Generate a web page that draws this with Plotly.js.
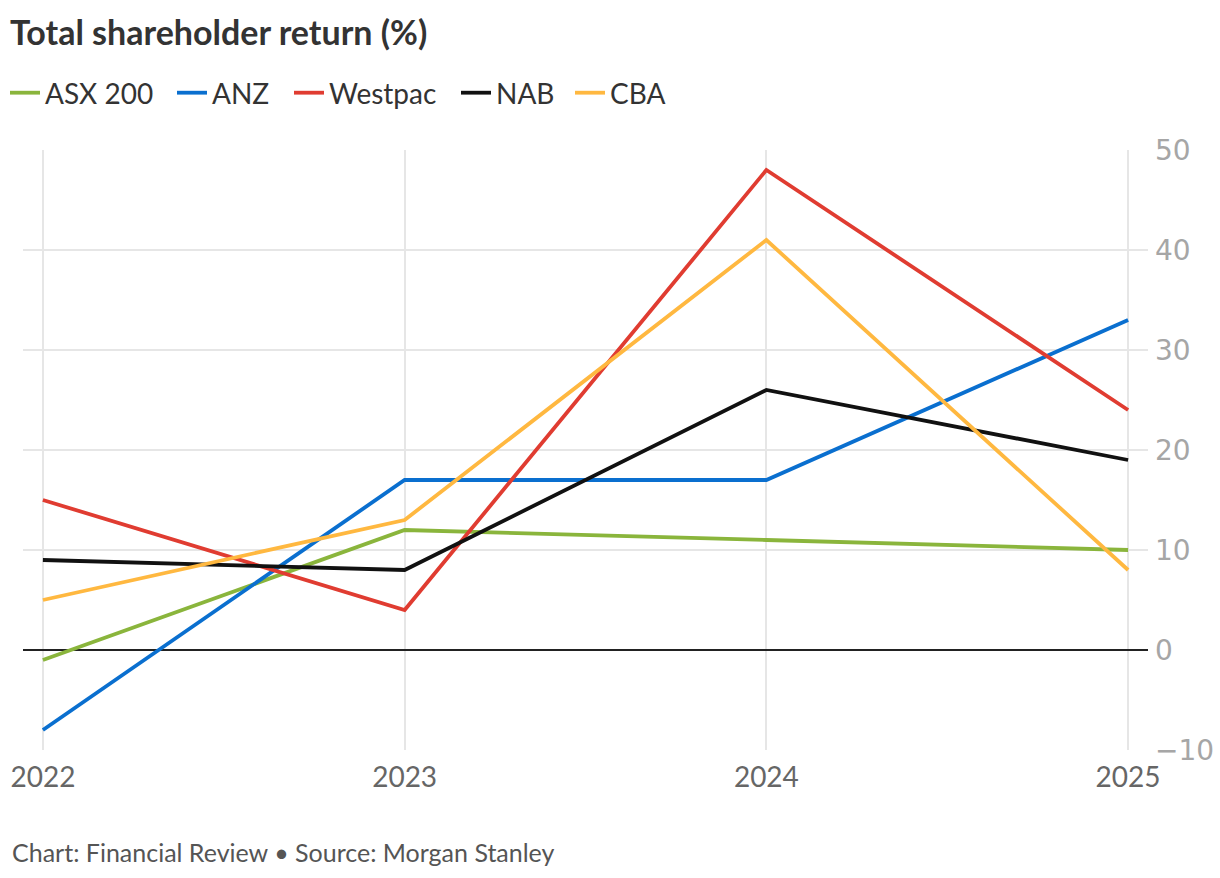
<!DOCTYPE html>
<html>
<head>
<meta charset="utf-8">
<script src="https://cdn.plot.ly/plotly-3.0.1.min.js"></script>
<style>
html,body{margin:0;padding:0;background:#fff;}
#chart{width:1220px;height:878px;}
</style>
</head>
<body>
<div id="chart"></div>
<script>
const years = [2022, 2023, 2024, 2025];
const seriesNames = ["ASX 200", "ANZ", "Westpac", "NAB", "CBA"];
const asx200 = [-1, 12, 11, 10];
const anz = [-8, 17, 17, 33];
const westpac = [15, 4, 48, 24];
const nab = [9, 8, 26, 19];
const cba = [5, 13, 41, 8];
const colors = ["#8ab53c", "#0a6fcf", "#e03c31", "#111111", "#ffb840"];
const yTicks = [-10, 0, 10, 20, 30, 40, 50];
const xTickLabels = ["2022", "2023", "2024", "2025"];

const allValues = [asx200, anz, westpac, nab, cba];
const font = "Lato, 'Open Sans', sans-serif";
const W = 1220, H = 878;
// legend entry left edges (px) in the page
const legendStarts = [5, 172, 289, 456, 570];
const legendKeys = ["legend", "legend2", "legend3", "legend4", "legend5"];

const traces = allValues.map((vals, i) => ({
  x: years,
  y: vals,
  name: seriesNames[i],
  type: "scatter",
  mode: "lines",
  line: {color: colors[i], width: 3.8},
  legend: legendKeys[i],
  hoverinfo: "skip"
}));

const layout = {
  width: W,
  height: H,
  paper_bgcolor: "#fff",
  plot_bgcolor: "#fff",
  margin: {l: 23, r: 72, t: 150, b: 128},
  title: {
    text: "<b>Total shareholder return (%)</b>",
    font: {family: font, size: 34, color: "#333"},
    x: 10 / W, xref: "container", xanchor: "left",
    y: 1 - 33 / H, yref: "container", yanchor: "middle"
  },
  showlegend: true,
  xaxis: {
    range: [2021.945, 2025.055],
    tickvals: years,
    ticktext: xTickLabels,
    showgrid: true,
    gridcolor: "#e6e6e6",
    gridwidth: 2,
    zeroline: false,
    showline: false,
    ticks: "",
    ticklabelstandoff: 8,
    tickfont: {family: font, size: 28, color: "#666"},
    fixedrange: true
  },
  yaxis: {
    side: "right",
    range: [-10, 50],
    tickvals: yTicks,
    showgrid: true,
    gridcolor: "#e6e6e6",
    gridwidth: 2,
    zeroline: true,
    zerolinecolor: "#222",
    zerolinewidth: 1.5,
    showline: false,
    ticks: "",
    ticklabelstandoff: 6,
    tickfont: {family: "'DejaVu Sans', sans-serif", size: 28, color: "#a6a6a6"},
    fixedrange: true
  },
  annotations: [{
    text: "Chart: Financial Review • Source: Morgan Stanley",
    xref: "paper", yref: "paper",
    x: (10 - 23) / (W - 23 - 72), y: (750 - 852) / 600,
    xanchor: "left", yanchor: "middle",
    showarrow: false,
    font: {family: font, size: 25, color: "#555"}
  }]
};

legendKeys.forEach((k, i) => {
  layout[k] = {
    orientation: "h",
    xref: "container", yref: "container",
    x: legendStarts[i] / W, y: 1 - 93 / H,
    xanchor: "left", yanchor: "middle",
    font: {family: font, size: 28, color: "#333"},
    itemwidth: 30,
    bgcolor: "rgba(0,0,0,0)"
  };
});

Plotly.newPlot("chart", traces, layout, {staticPlot: true, displayModeBar: false});
</script>
</body>
</html>
